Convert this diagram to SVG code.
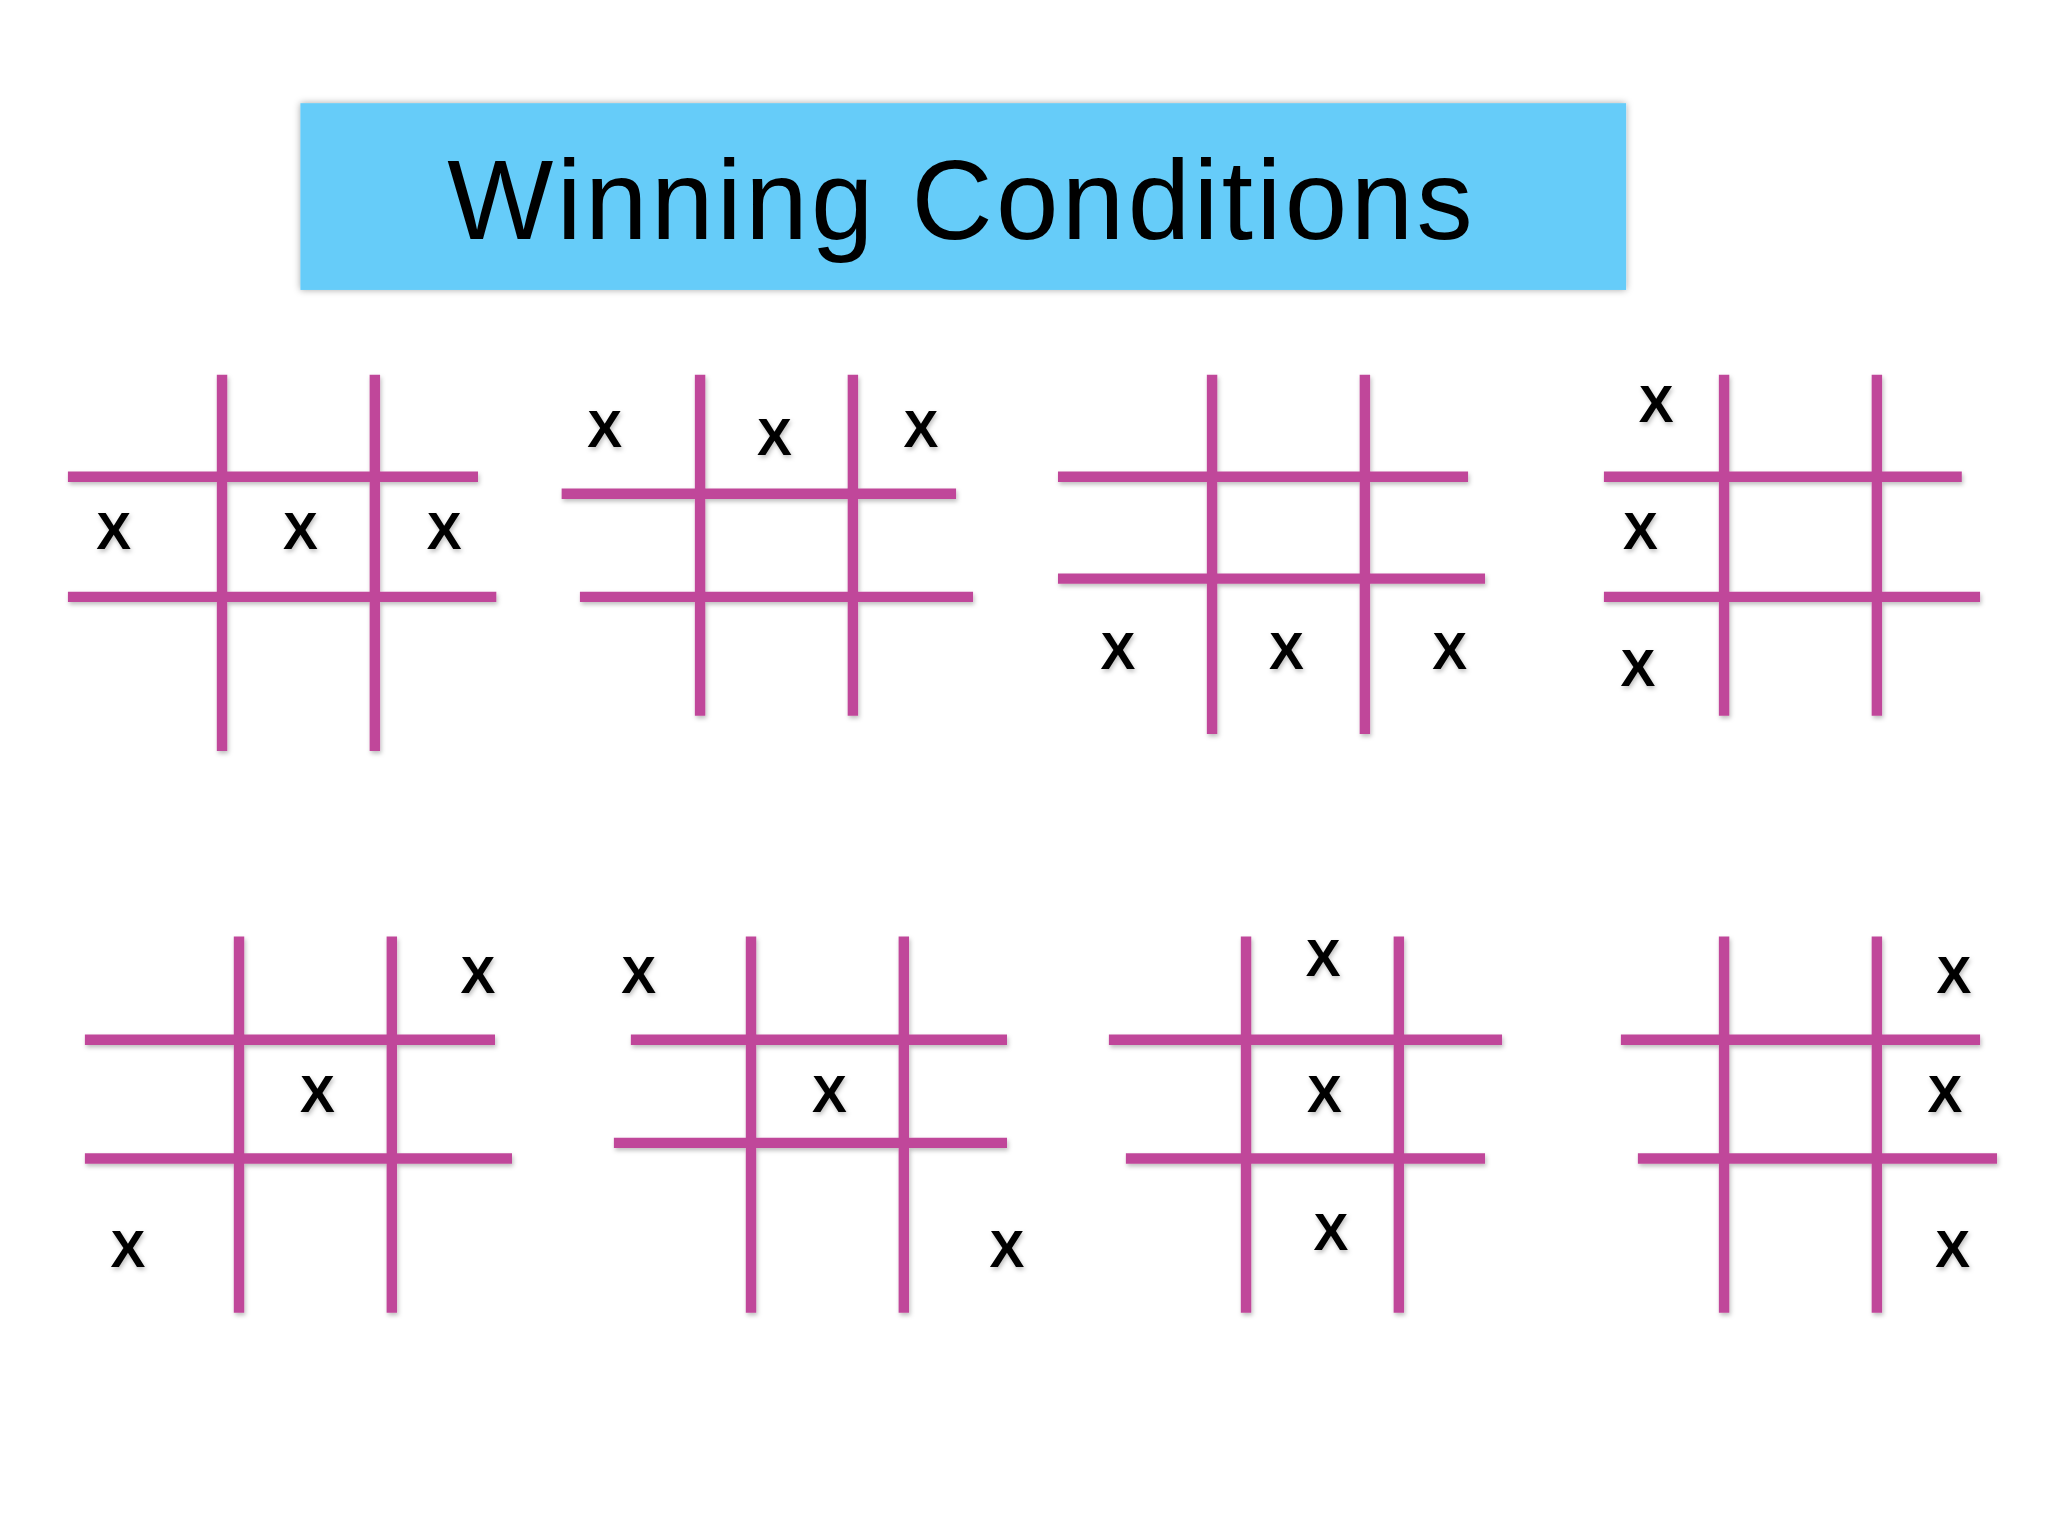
<svg xmlns="http://www.w3.org/2000/svg" width="2048" height="1536" viewBox="0 0 2048 1536">
<defs>
<filter id="sh" x="-5%" y="-5%" width="110%" height="110%"><feDropShadow dx="0" dy="0" stdDeviation="3" flood-color="#000" flood-opacity="0.35"/></filter>
<filter id="ls"><feDropShadow dx="1" dy="2" stdDeviation="1.5" flood-color="#000" flood-opacity="0.25"/></filter>
</defs>
<style>
.g line{stroke:#C0479A;stroke-width:8}
.x{font-family:"Liberation Sans",Arial,sans-serif;font-weight:bold;font-size:40px;text-anchor:middle;fill:#000}
</style>
<rect width="2048" height="1536" fill="#fff"/>
<g transform="scale(1.30612)">
<g id="title">
<rect x="230" y="79" width="1015" height="143" fill="#66CCF9" filter="url(#sh)"/>
<text x="735" y="183" font-family="Liberation Sans,Arial,sans-serif" font-size="86" text-anchor="middle" textLength="785" lengthAdjust="spacing" fill="#000">Winning Conditions</text>
</g>
<g id="grid1" class="g" filter="url(#ls)">
<line x1="170" y1="287" x2="170" y2="575"/><line x1="287" y1="287" x2="287" y2="575"/>
<line x1="52" y1="365" x2="366" y2="365"/><line x1="52" y1="457" x2="380" y2="457"/>
<text class="x" x="87" y="420">X</text><text class="x" x="230" y="420">X</text><text class="x" x="340" y="420">X</text>
</g>
<g id="grid2" class="g" filter="url(#ls)">
<line x1="536" y1="287" x2="536" y2="548"/><line x1="653" y1="287" x2="653" y2="548"/>
<line x1="430" y1="378" x2="732" y2="378"/><line x1="444" y1="457" x2="745" y2="457"/>
<text class="x" x="463" y="342">X</text><text class="x" x="593" y="348">X</text><text class="x" x="705" y="342">X</text>
</g>
<g id="grid3" class="g" filter="url(#ls)">
<line x1="928" y1="287" x2="928" y2="562"/><line x1="1045" y1="287" x2="1045" y2="562"/>
<line x1="810" y1="365" x2="1124" y2="365"/><line x1="810" y1="443" x2="1137" y2="443"/>
<text class="x" x="856" y="512">X</text><text class="x" x="985" y="512">X</text><text class="x" x="1110" y="512">X</text>
</g>
<g id="grid4" class="g" filter="url(#ls)">
<line x1="1320" y1="287" x2="1320" y2="548"/><line x1="1437" y1="287" x2="1437" y2="548"/>
<line x1="1228" y1="365" x2="1502" y2="365"/><line x1="1228" y1="457" x2="1516" y2="457"/>
<text class="x" x="1268" y="323">X</text><text class="x" x="1256" y="420">X</text><text class="x" x="1254" y="525">X</text>
</g>
<g id="grid5" class="g" filter="url(#ls)">
<line x1="183" y1="717" x2="183" y2="1005"/><line x1="300" y1="717" x2="300" y2="1005"/>
<line x1="65" y1="796" x2="379" y2="796"/><line x1="65" y1="887" x2="392" y2="887"/>
<text class="x" x="366" y="760">X</text><text class="x" x="243" y="851">X</text><text class="x" x="98" y="970">X</text>
</g>
<g id="grid6" class="g" filter="url(#ls)">
<line x1="575" y1="717" x2="575" y2="1005"/><line x1="692" y1="717" x2="692" y2="1005"/>
<line x1="483" y1="796" x2="771" y2="796"/><line x1="470" y1="875" x2="771" y2="875"/>
<text class="x" x="489" y="760">X</text><text class="x" x="635" y="851">X</text><text class="x" x="771" y="970">X</text>
</g>
<g id="grid7" class="g" filter="url(#ls)">
<line x1="954" y1="717" x2="954" y2="1005"/><line x1="1071" y1="717" x2="1071" y2="1005"/>
<line x1="849" y1="796" x2="1150" y2="796"/><line x1="862" y1="887" x2="1137" y2="887"/>
<text class="x" x="1013" y="747">X</text><text class="x" x="1014" y="851">X</text><text class="x" x="1019" y="957">X</text>
</g>
<g id="grid8" class="g" filter="url(#ls)">
<line x1="1320" y1="717" x2="1320" y2="1005"/><line x1="1437" y1="717" x2="1437" y2="1005"/>
<line x1="1241" y1="796" x2="1516" y2="796"/><line x1="1254" y1="887" x2="1529" y2="887"/>
<text class="x" x="1496" y="760">X</text><text class="x" x="1489" y="851">X</text><text class="x" x="1495" y="970">X</text>
</g>
<g id="connectors"/>
</g>
</svg>
